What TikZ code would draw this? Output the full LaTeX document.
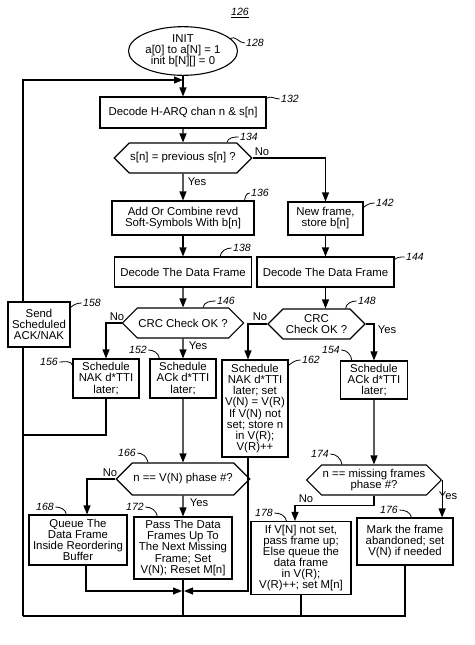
\documentclass[tikz,border=0pt]{standalone}
\usepackage{fontspec}
\setmainfont{Liberation Sans}
\usetikzlibrary{shapes.geometric,shapes.symbols,arrows.meta,positioning}
\begin{document}
\begin{tikzpicture}[x=1pt,y=-1pt,line width=1.1pt,
box/.style={draw,align=center,inner sep=1pt,font=\fontsize{11.4}{11.1}\selectfont},
hexa/.style={box,signal,signal to=west and east,signal pointer angle=90},
lbl/.style={font=\fontsize{10.5}{10.5}\selectfont\itshape,inner sep=1pt},
yn/.style={font=\fontsize{11.2}{11}\selectfont,inner sep=1pt},
arr/.style={-{Triangle[length=9pt,width=7pt]}},
lead/.style={line width=0.8pt}]
\useasboundingbox (0,0) rectangle (474,645);
\node[lbl] (n126) at (240,13) {\underline{126}};

\node[box,ellipse,minimum width=100,minimum height=46] (init) at (183,51) {INIT\\a[0] to a[N] = 1\\init b[N][] = 0};
\node[box,minimum width=166,minimum height=31] (b132) at (183,112.5) {Decode H-ARQ chan n \& s[n]};
\node[hexa,minimum width=135,minimum height=30] (h134) at (183,158) {s[n] = previous s[n] ?};
\node[box,minimum width=142,minimum height=34] (b136) at (183,218) {Add Or Combine revd\\Soft-Symbols With b[n]};
\node[box,minimum width=75,minimum height=33] (b142) at (325.5,218.5) {New frame,\\store b[n]};
\node[box,minimum width=137,minimum height=30] (b138) at (183,272) {Decode The Data Frame};
\node[box,minimum width=137,minimum height=30] (b144) at (325.5,272) {Decode The Data Frame};
\node[hexa,minimum width=111,minimum height=30] (h146) at (183,323) {CRC Check OK ?};
\node[hexa,minimum width=97,minimum height=30] (h148) at (316.5,324) {CRC\\Check OK ?};
\node[box,minimum width=62,minimum height=45] (b158) at (39,324.5) {Send\\Scheduled\\ACK/NAK};
\node[box,minimum width=66,minimum height=39] (b156) at (106,378.5) {Schedule\\NAK d*TTI\\later;};
\node[box,minimum width=66,minimum height=39] (b152) at (183,378.5) {Schedule\\ACk d*TTI\\later;};
\node[box,minimum width=66,minimum height=97] (b162) at (255,408.5) {Schedule\\NAK d*TTI\\later; set\\V(N) = V(R)\\If V(N) not\\set; store n\\in V(R);\\V(R)++};
\node[box,minimum width=67,minimum height=38] (b154) at (374,380) {Schedule\\ACk d*TTI\\later;};
\node[hexa,minimum width=124,minimum height=32] (h166) at (183,479) {n == V(N) phase \#?};
\node[hexa,minimum width=125,minimum height=30] (h174) at (374,480) {n == missing frames\\phase \#?};
\node[box,minimum width=98,minimum height=50] (b168) at (78,540) {Queue The\\Data Frame\\Inside Reordering\\Buffer};
\node[box,minimum width=98,minimum height=62] (b172) at (183,548) {Pass The Data\\Frames Up To\\The Next Missing\\Frame; Set\\V(N); Reset M[n]};
\node[box,minimum width=100,minimum height=73] (b178) at (301,558) {If V[N] not set,\\pass frame up;\\Else queue the\\data frame\\in V(R);\\V(R)++; set M[n]};
\node[box,minimum width=96,minimum height=47] (b176) at (405,541.5) {Mark the frame\\abandoned; set\\V(N) if needed};

\coordinate (top) at (183,80);
\coordinate (bl) at (23,616);
\coordinate (j156) at (23,435);
\coordinate (mrg) at (183,591);

\path[draw,arr] (init.south) -- (b132);
\path[draw,arr] (b132) -- (h134);
\path[draw,arr] (h134) -- (b136);
\path[draw,arr] (h134.east) -| (b142.north);
\path[draw,arr] (b136) -- (b138);
\path[draw,arr] (b142) -- (b144);
\path[draw,arr] (b138) -- (h146);
\path[draw,arr] (b144.south) -- (b144.south |- h148.north);
\path[draw,arr] (h146.west) -| (b156.north);
\path[draw,arr] (h146) -- (b152);
\path[draw,arr] (h148.west) -| ([xshift=-7pt]b162.north);
\path[draw,arr] (h148.east) -| (b154.north);
\path[draw,arr] (b152) -- (h166);
\path[draw,arr] (b154) -- (h174);
\path[draw,arr] (h166.west) -| ([xshift=9pt]b168.north);
\path[draw,arr] (h166) -- (b172);
\path[draw,arr] (h174.south) -- ++(0,10) -| ([xshift=-6pt]b178.north);
\path[draw,arr] (h174.east) -- (h174.east |- b176.north);
\path[draw,arr,shorten >=1pt] ([xshift=8pt]b168.south) |- (mrg);
\path[draw,arr,shorten >=1pt] ([xshift=-7pt]b162.south) |- (mrg);
\path[draw] (b172.south) -- (b172.south |- bl);
\path[draw] (b178.south) -- (b178.south |- bl);
\path[draw] (bl) -| (b176.south);
\path[draw] (bl) -- (bl |- b158.south);
\path[draw,arr] (bl |- b158.north) |- (top);
\path[draw] (b156.south) |- (j156);

\node[yn] (no134) at (262,152) {No};
\node[yn] (yes134) at (197,182) {Yes};
\node[yn] (no146) at (117,317) {No};
\node[yn] (yes146) at (198,346) {Yes};
\node[yn] (no148) at (260,317) {No};
\node[yn] (yes148) at (387,330) {Yes};
\node[yn] (no166) at (110,473) {No};
\node[yn] (yes166) at (199,503) {Yes};
\node[yn] (no174) at (306,499) {No};
\node[yn] (yes174) at (448,496) {Yes};

\node[lbl] (n128) at (255,43) {128};
\node[lbl] (n132) at (290,99) {132};
\node[lbl] (n134) at (249,137) {134};
\node[lbl] (n136) at (260,193) {136};
\node[lbl] (n142) at (385,203) {142};
\node[lbl] (n138) at (242,248) {138};
\node[lbl] (n144) at (415,257) {144};
\node[lbl] (n146) at (226,301) {146};
\node[lbl] (n148) at (367,301) {148};
\node[lbl] (n158) at (92,303) {158};
\node[lbl] (n156) at (49,362) {156};
\node[lbl] (n152) at (138,350) {152};
\node[lbl] (n162) at (311,360) {162};
\node[lbl] (n154) at (331,350) {154};
\node[lbl] (n166) at (127,453) {166};
\node[lbl] (n174) at (320,454) {174};
\node[lbl] (n168) at (45,507) {168};
\node[lbl] (n172) at (135,507) {172};
\node[lbl] (n178) at (264,513) {178};
\node[lbl] (n176) at (389,510) {176};

\path[draw,lead] (init.15) to[out=30,in=180] (n128.west);
\path[draw,lead] ([yshift=-2pt]b132.north east) to[out=40,in=180] (n132.west);
\path[draw,lead] ([xshift=44pt]h134.north) to[out=80,in=180] (n134.west);
\path[draw,lead] ([xshift=-10pt]b136.north east) to[out=80,in=180] (n136.west);
\path[draw,lead] ([yshift=-6pt]b142.north east) to[out=40,in=180] (n142.west);
\path[draw,lead] ([xshift=-32pt]b138.north east) to[out=80,in=180] (n138.west);
\path[draw,lead] ([yshift=-3pt]b144.north east) to[out=40,in=180] (n144.west);
\path[draw,lead] ([xshift=20pt]h146.north) to[out=80,in=180] (n146.west);
\path[draw,lead] ([xshift=29pt]h148.north) to[out=80,in=180] (n148.west);
\path[draw,lead] ([yshift=-6pt]b158.north east) to[out=40,in=180] (n158.west);
\path[draw,lead] (n156.east) to[out=0,in=100] ([yshift=-7pt]b156.north west);
\path[draw,lead] (n152.east) to[out=0,in=100] ([xshift=10pt]b152.north west);
\path[draw,lead] ([yshift=-6pt]b162.north east) to[out=40,in=180] (n162.west);
\path[draw,lead] (n154.east) to[out=0,in=100] ([xshift=12pt]b154.north west);
\path[draw,lead] (n166.east) to[out=0,in=100] ([xshift=-35pt]h166.north);
\path[draw,lead] (n174.east) to[out=0,in=100] ([xshift=-32pt]h174.north);
\path[draw,lead] (n168.east) to[out=0,in=100] ([xshift=38pt]b168.north west);
\path[draw,lead] (n172.east) to[out=0,in=100] ([xshift=24pt]b172.north west);
\path[draw,lead] (n178.east) to[out=0,in=100] ([xshift=36pt]b178.north west);
\path[draw,lead] (n176.east) to[out=0,in=100] ([xshift=55pt]b176.north west);
\end{tikzpicture}
\end{document}
